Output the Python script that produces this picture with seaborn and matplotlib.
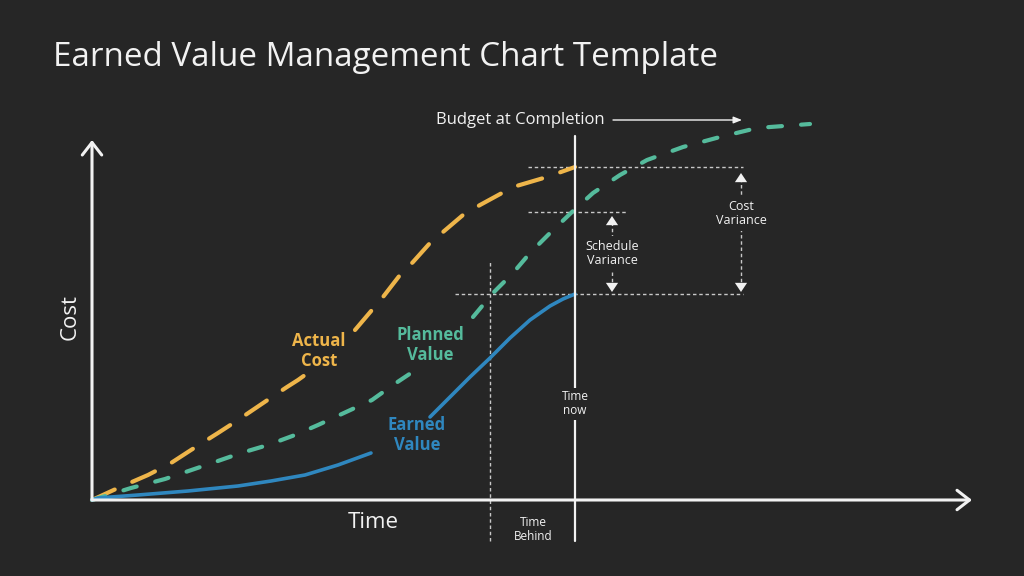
import matplotlib.pyplot as plt
import numpy as np
import pandas as pd
import seaborn as sns

# ---- colours --------------------------------------------------------------
BG = "#262626"
WHITE = "#f2f2f2"
GREY = "#c8c8c8"
ORANGE = "#eeb54a"
TEAL = "#55bb9c"
BLUE = "#2f87bf"

# ---- data: time in weeks, cost in $k ---------------------------------------
# NaN = the curve is hidden behind its label
ac_time = [0, 2.6, 5.6, 7.9, 9.9, 12.6, 14.3, 18.0, 19.5, 20.6, 22.0, np.nan,
           26.3, 29.1, 30.8, 32.1, 33.8, 35.1, 37.1, 38.8, 42.1, 45.5, 48.3]
ac_cost = [0, 12, 25, 37, 50, 67, 78, 103, 113, 120, 130, np.nan,
           170, 203, 225, 238, 257, 268, 285, 295, 313, 323, 333]

pv_time = [0, 3.9, 7.3, 12.3, 14.9, 17.6, 20.3, 22.6, 28.0, 30.1, 33.1, np.nan,
           38.1, 40.1, 42.1, 43.8, 45.8, 48.0, 50.1, 52.8, 55.5, 59.1, 62.8, 66.5, 71.8]
pv_cost = [0, 12, 21, 38, 47, 55, 65, 75, 100, 115, 135, np.nan,
           183, 207, 227, 247, 267, 288, 307, 325, 340, 353, 363, 372, 376]

ev_time = [0, 0.6, 4.6, 9.6, 14.6, 17.9, 21.3, 24.6, 27.9, np.nan,
           33.8, 35.8, 37.8, 39.8, 41.8, 43.8, 45.8, 47.1, 48.3]
ev_cost = [0, 2, 5, 9, 14, 19, 25, 35, 47, np.nan,
           83, 103, 123, 142, 162, 180, 194, 201, 206]

t_now = 48.3        # status date
t_behind = 39.8     # when PV equalled today's EV
ac_now = 333
pv_now = 288
ev_now = 206
bac_level = 380


def tidy(name, t, c):
    d = pd.DataFrame({"time": t, "cost": c})
    d["seg"] = d["time"].isna().cumsum()
    d["series"] = name
    return d.dropna()


curves = pd.concat([
    tidy("Actual Cost", ac_time, ac_cost),
    tidy("Planned Value", pv_time, pv_cost),
    tidy("Earned Value", ev_time, ev_cost),
])

styles = {
    "Actual Cost": dict(color=ORANGE, lw=3, linestyle=(0, (6, 4.6))),
    "Planned Value": dict(color=TEAL, lw=3, linestyle=(0, (3.3, 4.6))),
    "Earned Value": dict(color=BLUE, lw=2.6, linestyle="-"),
}

sns.set_theme(style="dark")
plt.rcParams["font.family"] = ["Open Sans", "DejaVu Sans"]

fig = plt.figure(figsize=(10.24, 5.76), dpi=100, facecolor=BG)
ax = fig.add_axes([0, 0, 1, 1])
ax.set_facecolor(BG)

for name, sub in curves.groupby("series", sort=False):
    sns.lineplot(data=sub, x="time", y="cost", units="seg", estimator=None,
                 sort=False, ax=ax, legend=False, dash_capstyle="round",
                 solid_capstyle="round", solid_joinstyle="round",
                 dash_joinstyle="round", zorder=3, **styles[name])

ax.set_xlim(-9.2, 93.2)
ax.set_ylim(-76, 500)
ax.axis("off")

# ---- axes with open arrow heads -------------------------------------------
axis_arrow = dict(arrowstyle="->,head_length=0.45,head_width=0.35", color=WHITE,
                  lw=2.2, mutation_scale=20, shrinkA=0, shrinkB=0)
ax.annotate("", xy=(0, 360), xytext=(0, 0), arrowprops=axis_arrow)
ax.annotate("", xy=(88, 0), xytext=(0, 0), arrowprops=axis_arrow)
ax.text(-2.2, 183, "Cost", rotation=90, ha="center", va="center", fontsize=16, color=WHITE)
ax.text(28.1, -22, "Time", ha="center", va="center", fontsize=16, color=WHITE)

# ---- guides --------------------------------------------------------------
dotted = dict(color=GREY, lw=1, linestyle=(0, (2.5, 2)), zorder=2)
ax.plot([t_now, t_now], [-41, 364], color=WHITE, lw=1.6, zorder=4)
ax.plot([t_behind, t_behind], [-41, 240], **dotted)
ax.plot([43.6, 65.1], [ac_now, ac_now], **dotted)
ax.plot([43.6, 53.5], [pv_now, pv_now], **dotted)
ax.plot([36.3, 65.1], [ev_now, ev_now], **dotted)

small = dict(ha="center", va="center", fontsize=8.5, color=WHITE, linespacing=1.1, zorder=6,
             bbox=dict(boxstyle="square,pad=0.25", fc=BG, ec="none"))
ax.text(t_now, 96, "Time\nnow", **small)
ax.text(44.1, -30, "Time\nBehind", **small)

head = dict(arrowstyle="-|>,head_length=0.6,head_width=0.4", mutation_scale=11,
            color=WHITE, lw=0, shrinkA=0, shrinkB=0)


def variance_arrow(t, lo, hi, mid, label):
    ax.plot([t, t], [lo + 4, hi - 4], **dotted)
    ax.annotate("", xy=(t, hi), xytext=(t, hi - 1), arrowprops=head, zorder=7)
    ax.annotate("", xy=(t, lo), xytext=(t, lo + 1), arrowprops=head, zorder=7)
    ax.text(t, mid, label, **dict(small, fontsize=9))


variance_arrow(52.0, 208, 284, 247, "Schedule\nVariance")
variance_arrow(64.9, 208, 327, 286, "Cost\nVariance")

ax.text(51.3, bac_level, "Budget at Completion", ha="right", va="center", fontsize=12, color=WHITE)
ax.annotate("", xy=(65.0, bac_level), xytext=(52.1, bac_level),
            arrowprops=dict(arrowstyle="-|>,head_length=0.5,head_width=0.2", mutation_scale=10,
                            color=WHITE, lw=1, shrinkA=0, shrinkB=0))

# ---- curve labels ----------------------------------------------------------
lab = dict(ha="center", va="center", fontsize=12, fontweight="bold", linespacing=1.15)
ax.text(22.7, 149, "Actual\nCost", color=ORANGE, **lab)
ax.text(33.8, 155, "Planned\nValue", color=TEAL, **lab)
ax.text(32.5, 65, "Earned\nValue", color=BLUE, **lab)

fig.text(0.052, 0.885, "Earned Value Management Chart Template", fontsize=23.9,
         color=WHITE, va="baseline")

fig.savefig("out.png", dpi=100, facecolor=BG)
